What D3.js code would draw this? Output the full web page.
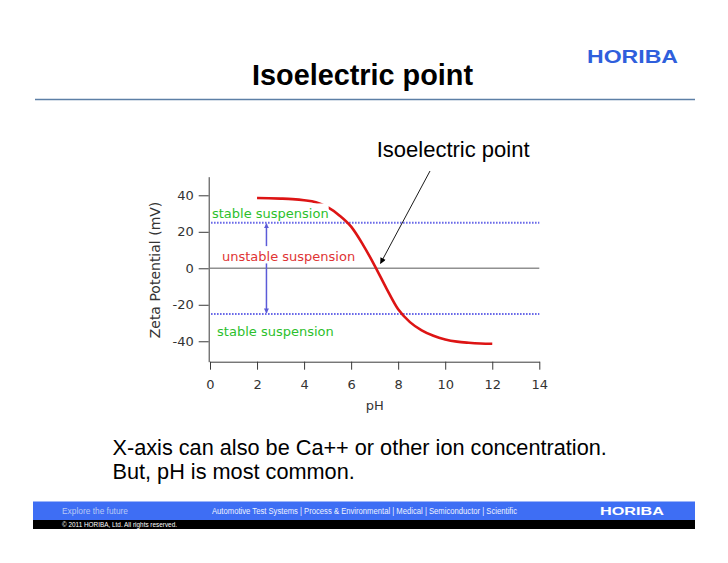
<!doctype html>
<html>
  <head>
    <meta charset="utf-8">
    <title>Isoelectric point</title>
    <script src="https://cdnjs.cloudflare.com/ajax/libs/d3/7.8.5/d3.min.js"></script>
    <style>
      html, body { margin: 0; padding: 0; background: #fff; }
      svg { display: block; }
    </style>
  </head>
  <body>
    <div id="chart"></div>

    <script>
      // data
      const phValues   = [2, 2.5, 3, 3.5, 4, 4.5, 5, 5.5, 6, 6.5, 7, 7.5, 8, 8.5, 9, 9.5, 10, 10.5, 11, 11.5, 12];
      const zetaValues = [38.5, 38.4, 38.2, 37.9, 37.3, 36.2, 33.5, 29, 22.8, 13, 1.5, -11, -22.5, -29.5, -34, -37, -39, -40.2, -40.8, -41.2, -41.4];
      const xTicks = [0, 2, 4, 6, 8, 10, 12, 14];
      const yTicks = [-40, -20, 0, 20, 40];
      const stableLimits = [25, -25];
      const zoneLabels = ['stable suspension', 'unstable suspension', 'stable suspension'];
      const bodyLines = ['X-axis can also be Ca++ or other ion concentration.', 'But, pH is most common.'];
      const footerNav = 'Automotive Test Systems | Process & Environmental | Medical | Semiconductor | Scientific';

      const W = 728, H = 563;
      const svg = d3.select('#chart').append('svg')
        .attr('width', W)
        .attr('height', H);

      // ---- slide header ----
      svg.append('text')
        .attr('x', 252).attr('y', 85)
        .attr('textLength', 221).attr('lengthAdjust', 'spacingAndGlyphs')
        .style('font-family', '"Liberation Sans", Arial, sans-serif')
        .style('font-weight', 'bold')
        .style('font-size', '29px')
        .style('fill', '#000')
        .text('Isoelectric point');

      svg.append('text')
        .attr('x', 587).attr('y', 62.5)
        .attr('textLength', 91).attr('lengthAdjust', 'spacingAndGlyphs')
        .style('font-family', '"Liberation Sans", Arial, sans-serif')
        .style('font-weight', 'bold')
        .style('font-size', '17.5px')
        .style('fill', '#2f5fdc')
        .text('HORIBA');

      svg.append('line')
        .attr('x1', 35).attr('x2', 695)
        .attr('y1', 99.5).attr('y2', 99.5)
        .style('stroke', '#5d7fa6')
        .style('stroke-width', 1.4);

      // ---- chart ----
      const x = d3.scaleLinear().domain([0, 14]).range([210, 539.3]);
      const y = d3.scaleLinear().domain([-51.2, 50.2]).range([361.7, 176.7]);

      const chartFont = '"DejaVu Sans", Verdana, sans-serif';

      // stable limits (dotted)
      svg.selectAll('.limit')
        .data(stableLimits)
        .join('line')
        .attr('class', 'limit')
        .attr('x1', x(0) + 1).attr('x2', x(14))
        .attr('y1', d => y(d)).attr('y2', d => y(d))
        .style('stroke', '#6a6ae8')
        .style('stroke-width', 2)
        .style('stroke-dasharray', '1.6,1.4');

      // zero line
      svg.append('line')
        .attr('x1', x(0)).attr('x2', x(14))
        .attr('y1', y(0)).attr('y2', y(0))
        .style('stroke', '#909090')
        .style('stroke-width', 1.5);

      // arrow heads
      const defs = svg.append('defs');
      defs.append('marker')
        .attr('id', 'blueHead')
        .attr('viewBox', '0 0 10 10')
        .attr('refX', 9).attr('refY', 5)
        .attr('markerWidth', 5).attr('markerHeight', 7)
        .attr('markerUnits', 'userSpaceOnUse')
        .attr('orient', 'auto-start-reverse')
        .append('path')
        .attr('d', 'M0,0 L10,5 L0,10 z')
        .style('fill', '#5b5bd8');

      defs.append('marker')
        .attr('id', 'blackHead')
        .attr('viewBox', '0 0 10 10')
        .attr('refX', 9).attr('refY', 5)
        .attr('markerWidth', 8).attr('markerHeight', 6)
        .attr('markerUnits', 'userSpaceOnUse')
        .attr('orient', 'auto')
        .append('path')
        .attr('d', 'M0,0 L10,5 L0,10 z')
        .style('fill', '#000');

      // double arrow between the limits
      svg.append('line')
        .attr('x1', x(2.4)).attr('x2', x(2.4))
        .attr('y1', y(stableLimits[0]) + 1).attr('y2', y(stableLimits[1]) - 1)
        .attr('marker-start', 'url(#blueHead)')
        .attr('marker-end', 'url(#blueHead)')
        .style('stroke', '#5b5bd8')
        .style('stroke-width', 1.5);

      // zeta potential curve
      const line = d3.line()
        .x((d, i) => x(phValues[i]))
        .y(d => y(d))
        .curve(d3.curveMonotoneX);

      svg.append('path')
        .datum(zetaValues)
        .attr('d', line)
        .style('fill', 'none')
        .style('stroke', '#dd1414')
        .style('stroke-width', 2.6);

      // zone labels with opaque background (masks the curve / arrow)
      const labelSpots = [
        { x: 0.085, y: 27.6, color: '#2cbf2c' },
        { x: 0.51, y: 4.2, color: '#e03434' },
        { x: 0.3, y: -37.1, color: '#2cbf2c' }
      ];
      zoneLabels.forEach(function(txt, i) {
        const spot = labelSpots[i];
        const g = svg.append('g');
        const rect = g.append('rect').style('fill', '#fff');
        const t = g.append('text')
          .attr('x', x(spot.x)).attr('y', y(spot.y))
          .style('font-family', chartFont)
          .style('font-size', '13px')
          .style('fill', spot.color)
          .text(txt);
        const bb = t.node().getBBox();
        const bottom = Math.min(bb.y + bb.height, y(spot.y) + 2.8);
        rect.attr('x', bb.x).attr('y', bb.y - 2.5)
          .attr('width', bb.width).attr('height', bottom - bb.y + 2.5);
      });

      // axes
      const xAxis = svg.append('g')
        .attr('transform', 'translate(0,' + y(-51.2) + ')')
        .call(d3.axisBottom(x).tickValues(xTicks).tickSize(8).tickSizeOuter(0).tickPadding(10)
          .tickFormat(d => String(d)));

      const yAxis = svg.append('g')
        .attr('transform', 'translate(' + (x(0) - 1.3) + ',0)')
        .call(d3.axisLeft(y).tickValues(yTicks).tickSize(10).tickSizeOuter(0).tickPadding(5)
          .tickFormat(d => String(d)));

      [xAxis, yAxis].forEach(function(ax) {
        ax.select('.domain').style('stroke', '#3a3a3a');
        ax.selectAll('.tick line').style('stroke', '#3a3a3a');
        ax.selectAll('.tick text')
          .style('font-family', chartFont)
          .style('font-size', '13px')
          .style('fill', '#333');
      });

      svg.append('text')
        .attr('x', x(7)).attr('y', 410)
        .attr('text-anchor', 'middle')
        .style('font-family', chartFont)
        .style('font-size', '13px')
        .style('fill', '#333')
        .text('pH');

      svg.append('text')
        .attr('transform', 'translate(160,270) rotate(-90)')
        .attr('text-anchor', 'middle')
        .style('font-family', chartFont)
        .style('font-size', '14px')
        .style('fill', '#333')
        .text('Zeta Potential (mV)');

      // isoelectric point callout
      svg.append('text')
        .attr('x', 376.7).attr('y', 156.7)
        .style('font-family', '"Liberation Sans", Arial, sans-serif')
        .style('font-size', '22px')
        .style('fill', '#000')
        .text('Isoelectric point');

      svg.append('line')
        .attr('x1', 430).attr('y1', 171)
        .attr('x2', x(7.25)).attr('y2', y(2.7))
        .attr('marker-end', 'url(#blackHead)')
        .style('stroke', '#000')
        .style('stroke-width', 0.9);

      // ---- body text ----
      svg.selectAll('.body')
        .data(bodyLines)
        .join('text')
        .attr('class', 'body')
        .attr('x', 112.5)
        .attr('y', (d, i) => 454.5 + i * 24)
        .style('font-family', '"Liberation Sans", Arial, sans-serif')
        .style('font-size', '21.7px')
        .style('fill', '#000')
        .text(d => d);

      // ---- footer ----
      svg.append('rect')
        .attr('x', 33).attr('y', 501.5)
        .attr('width', 662).attr('height', 18.5)
        .style('fill', '#3e6ef4');
      svg.append('rect')
        .attr('x', 33).attr('y', 520)
        .attr('width', 662).attr('height', 9)
        .style('fill', '#000');

      svg.append('text')
        .attr('x', 62).attr('y', 514.3)
        .attr('textLength', 66).attr('lengthAdjust', 'spacingAndGlyphs')
        .style('font-family', '"Liberation Sans", Arial, sans-serif')
        .style('font-size', '9.5px')
        .style('fill', '#b9c8f4')
        .text('Explore the future');

      svg.append('text')
        .attr('x', 212).attr('y', 514)
        .attr('textLength', 305).attr('lengthAdjust', 'spacingAndGlyphs')
        .style('font-family', '"Liberation Sans", Arial, sans-serif')
        .style('font-size', '8.5px')
        .style('fill', '#eef2ff')
        .text(footerNav);

      svg.append('text')
        .attr('x', 600).attr('y', 515)
        .attr('textLength', 64).attr('lengthAdjust', 'spacingAndGlyphs')
        .style('font-family', '"Liberation Sans", Arial, sans-serif')
        .style('font-weight', 'bold')
        .style('font-size', '11.5px')
        .style('fill', '#fff')
        .text('HORIBA');

      svg.append('text')
        .attr('x', 62).attr('y', 527.3)
        .attr('textLength', 115).attr('lengthAdjust', 'spacingAndGlyphs')
        .style('font-family', '"Liberation Sans", Arial, sans-serif')
        .style('font-size', '6.5px')
        .style('fill', '#fff')
        .text('\u00a9 2011 HORIBA, Ltd. All rights reserved.');
    </script>
  </body>
</html>
